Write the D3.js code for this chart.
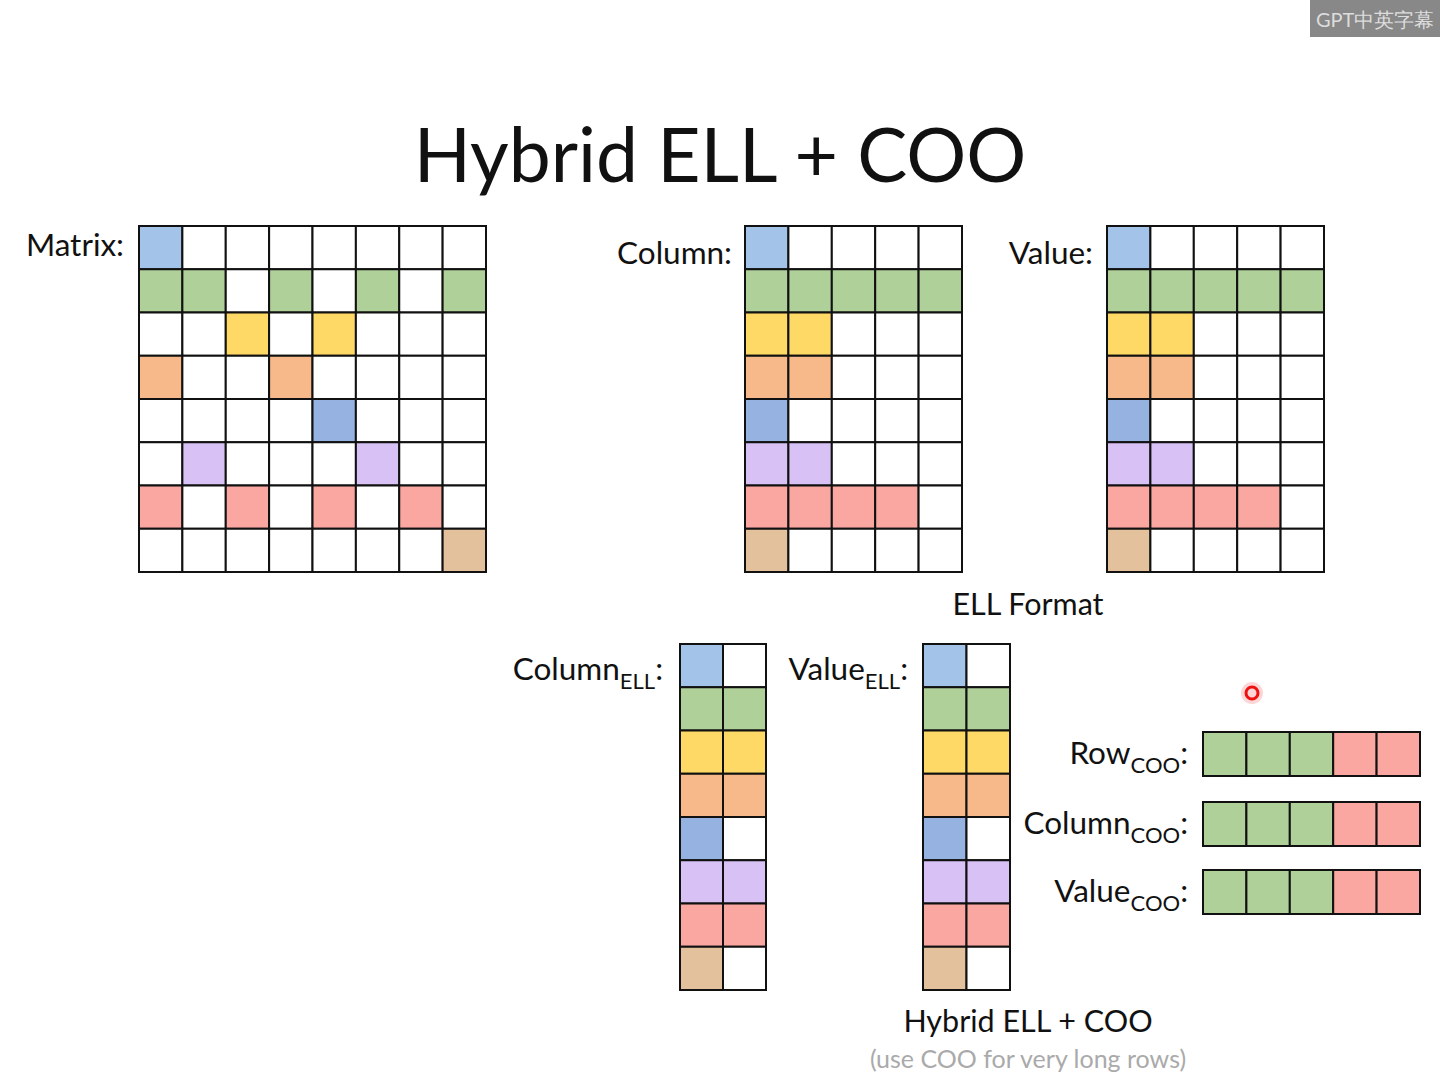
<!DOCTYPE html><html><head><meta charset="utf-8">
<script src="https://cdn.jsdelivr.net/npm/d3@7"></script>
<style>body{margin:0;background:#fff}text{font-family:Lato,"Open Sans",sans-serif;fill:#111}</style></head><body>
<script>
const rowColors=["#a4c3e8","#b0d09a","#ffd966","#f7b98a","#95b2e0","#d8c2f5","#f9a7a0","#e2c19c"];
const matrixNonzeros=[[0],[0,1,3,5,7],[2,4],[0,3],[4],[1,5],[0,2,4,6],[7]];
const ellCounts=[1,5,2,2,1,2,4,1];
const hybridCounts=[1,2,2,2,1,2,2,1];
const cooRows=[1,1,1,6,6];

const svg=d3.select("body").append("svg").attr("width",1440).attr("height",1074);
svg.append("rect").attr("x",1310).attr("y",0).attr("width",130).attr("height",37).attr("fill","#888");
svg.append("text").attr("x",1316).attr("y",27).attr("font-size",20).style("fill","#ddd").attr("font-family","'Noto Sans CJK SC'").text("GPT中英字幕");
svg.append("text").attr("x",720).attr("y",182).attr("text-anchor","middle").attr("font-size",75).text("Hybrid ELL + COO");

function grid(x0,y0,w,h,ncol,nrow,fill){
  const x=d3.scaleBand().domain(d3.range(ncol)).range([x0,x0+w]);
  const y=d3.scaleBand().domain(d3.range(nrow)).range([y0,y0+h]);
  const cells=[];for(let r=0;r<nrow;r++)for(let c=0;c<ncol;c++)cells.push({r,c});
  svg.append("g").selectAll("rect").data(cells).join("rect")
    .attr("x",d=>x(d.c)).attr("y",d=>y(d.r)).attr("width",x.bandwidth()).attr("height",y.bandwidth())
    .attr("fill",d=>fill(d.r,d.c)).attr("stroke","#111").attr("stroke-width",2);
}
grid(139,226,347,346,8,8,(r,c)=>matrixNonzeros[r].includes(c)?rowColors[r]:"#fff");
grid(745,226,217,346,5,8,(r,c)=>c<ellCounts[r]?rowColors[r]:"#fff");
grid(1107,226,217,346,5,8,(r,c)=>c<ellCounts[r]?rowColors[r]:"#fff");
grid(680,644,86,346,2,8,(r,c)=>c<hybridCounts[r]?rowColors[r]:"#fff");
grid(923,644,87,346,2,8,(r,c)=>c<hybridCounts[r]?rowColors[r]:"#fff");
[732,802,870].forEach(y=>grid(1203,y,217,44,5,1,(r,c)=>rowColors[cooRows[c]]));

function label(x,y,main,sub,anchor){
  const t=svg.append("text").attr("x",x).attr("y",y).attr("font-size",31.5).attr("text-anchor",anchor||"end");
  t.append("tspan").text(main);
  if(sub){t.append("tspan").attr("font-size",22).attr("dy",9).text(sub);t.append("tspan").attr("dy",-9).text(":");}
}
label(124,256,"Matrix:");label(732,264,"Column:");label(1093,264,"Value:");
label(663,680,"Column","ELL");label(908,680,"Value","ELL");
label(1188,764,"Row","COO");label(1188,834,"Column","COO");label(1188,902,"Value","COO");
svg.append("text").attr("x",1028).attr("y",615).attr("text-anchor","middle").attr("font-size",30.5).text("ELL Format");
svg.append("text").attr("x",1028).attr("y",1032).attr("text-anchor","middle").attr("font-size",30.5).text("Hybrid ELL + COO");
svg.append("text").attr("x",1028).attr("y",1068).attr("text-anchor","middle").attr("font-size",25).style("fill","#aaa").text("(use COO for very long rows)");
svg.append("circle").attr("cx",1252).attr("cy",693).attr("r",11).attr("fill","#f33").attr("opacity",0.2);
svg.append("circle").attr("cx",1252).attr("cy",693).attr("r",6).attr("fill","none").attr("stroke","#e11").attr("stroke-width",3);
</script></body></html>
